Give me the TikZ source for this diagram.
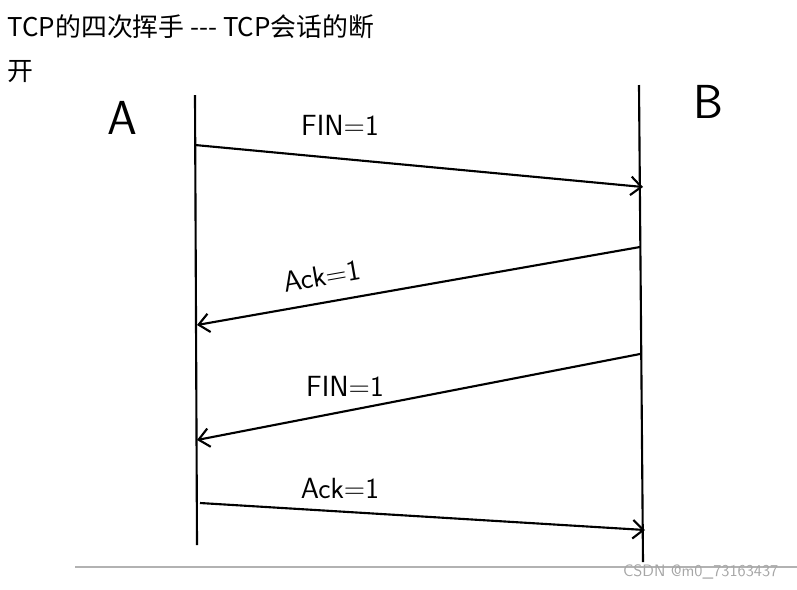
\documentclass[tikz,border=0pt]{standalone}
\usepackage{fontspec}
\setmainfont{Noto Sans CJK SC}
\usetikzlibrary{arrows.meta}
\begin{document}
\begin{tikzpicture}[x=0.0265cm,y=-0.0265cm,
  life/.style={line width=1.6pt,black},
  msg/.style={line width=1.6pt,black,-{Straight Barb[length=8pt,width=14pt]}},
  hand/.style={font=\fontsize{36}{36}\selectfont\sffamily},
  lbl/.style={font=\fontsize{22}{22}\selectfont\sffamily}]
\useasboundingbox (0,0) rectangle (797,589);
\node[anchor=west,font=\fontsize{19.5}{22}\selectfont] (t1) at (3,27) {TCP的四次挥手 {-}{-}{-} TCP会话的断};
\node[anchor=west,font=\fontsize{19.5}{22}\selectfont] (t2) at (3,72) {开};
\node[hand] (A) at (122,118) {A};
\node[hand] (B) at (708,102) {B};
\coordinate (a0) at (195,95); \coordinate (a1) at (197,545);
\coordinate (b0) at (639,85); \coordinate (b1) at (643,562);
\draw[life] (a0) -- (a1);
\draw[life] (b0) -- (b1);
\coordinate (m1s) at (195,145); \coordinate (m1e) at (643,187);
\coordinate (m2s) at (640,247); \coordinate (m2e) at (197,325);
\coordinate (m3s) at (640,354); \coordinate (m3e) at (197,440);
\coordinate (m4s) at (200,503); \coordinate (m4e) at (645,530);
\draw[msg] (m1s) -- (m1e);
\draw[msg] (m2s) -- (m2e);
\draw[msg] (m3s) -- (m3e);
\draw[msg] (m4s) -- (m4e);
\node[lbl] (l1) at (340,125) {FIN=1};
\node[lbl,rotate=10] (l2) at (322,276) {Ack=1};
\node[lbl] (l3) at (345,386) {FIN=1};
\node[lbl] (l4) at (340,488) {Ack=1};
\coordinate (g0) at (75,567); \coordinate (g1) at (797,567);
\draw[gray!60,line width=1.5pt] (g0) -- (g1);
\node[anchor=east,text=gray!70,font=\fontsize{12.5}{14}\selectfont\sffamily] (wm) at (783,572) {CSDN @m0\_73163437};
\end{tikzpicture}
\end{document}
